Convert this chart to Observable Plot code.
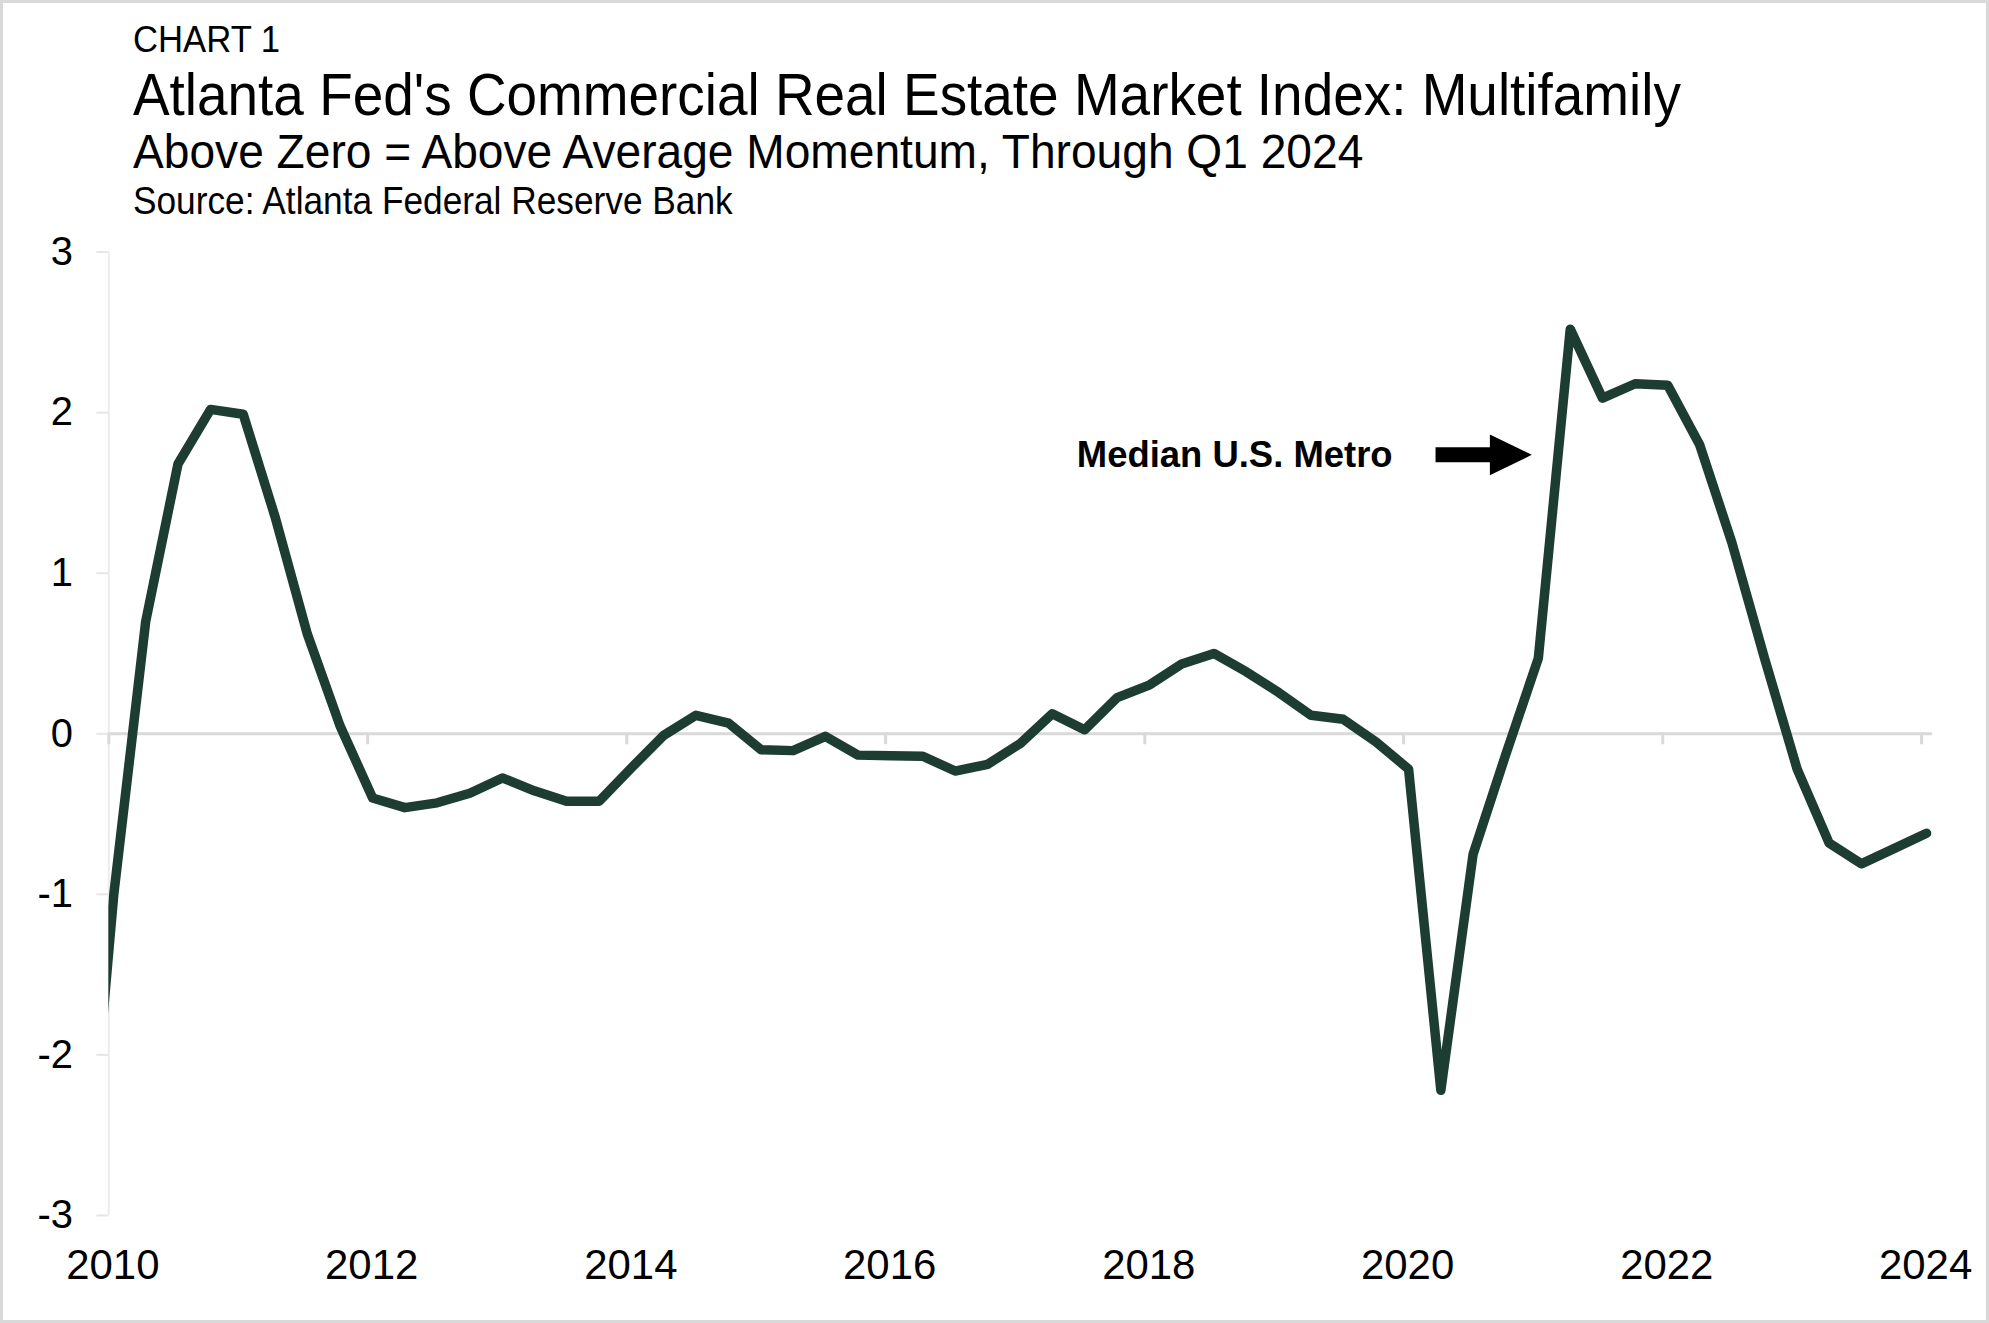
<!DOCTYPE html>
<html><head><meta charset="utf-8">
<script src="https://cdn.jsdelivr.net/npm/d3@7"></script>
<script src="https://cdn.jsdelivr.net/npm/@observablehq/plot@0.6"></script>
<style>
html,body{margin:0;padding:0;background:#fff;}
#page{position:relative;width:1989px;height:1323px;box-sizing:border-box;border:3px solid #d9d9d9;overflow:hidden;font-family:"Liberation Sans",Arial,Helvetica,sans-serif;background:#fff;}
.t{position:absolute;left:130px;white-space:nowrap;line-height:1;transform-origin:0 0;color:#000;}
#chart{position:absolute;left:-3px;top:217px;}
</style></head><body>
<div id="page">
  <div class="t" style="top:19.4px;font-size:36.5px;transform:scaleX(0.95)">CHART 1</div>
  <div class="t" style="top:63px;font-size:58.4px;transform:scaleX(0.94)">Atlanta Fed's Commercial Real Estate Market Index: Multifamily</div>
  <div class="t" style="top:125.2px;font-size:47.8px;transform:scaleX(0.965)">Above Zero = Above Average Momentum, Through Q1 2024</div>
  <div class="t" style="top:178.4px;font-size:39px;transform:scaleX(0.904)">Source: Atlanta Federal Reserve Bank</div>
  <div id="chart"></div>
</div>
<script>
// ---- data ----
const quarters = [
  "2009Q4",
  "2010Q1","2010Q2","2010Q3","2010Q4",
  "2011Q1","2011Q2","2011Q3","2011Q4",
  "2012Q1","2012Q2","2012Q3","2012Q4",
  "2013Q1","2013Q2","2013Q3","2013Q4",
  "2014Q1","2014Q2","2014Q3","2014Q4",
  "2015Q1","2015Q2","2015Q3","2015Q4",
  "2016Q1","2016Q2","2016Q3","2016Q4",
  "2017Q1","2017Q2","2017Q3","2017Q4",
  "2018Q1","2018Q2","2018Q3","2018Q4",
  "2019Q1","2019Q2","2019Q3","2019Q4",
  "2020Q1","2020Q2","2020Q3","2020Q4",
  "2021Q1","2021Q2","2021Q3","2021Q4",
  "2022Q1","2022Q2","2022Q3","2022Q4",
  "2023Q1","2023Q2","2023Q3","2023Q4",
  "2024Q1"
];
const medianMetro = [
  -3.3,
  -1.0, 0.70, 1.68, 2.02,
  1.99, 1.35, 0.62, 0.05,
  -0.40, -0.46, -0.43, -0.37,
  -0.275, -0.355, -0.42, -0.42,
  -0.21, -0.01, 0.115, 0.066,
  -0.10, -0.105, -0.016, -0.133,
  -0.137, -0.14, -0.232, -0.19,
  -0.06, 0.125, 0.025, 0.225,
  0.305, 0.435, 0.50, 0.385,
  0.255, 0.115, 0.09, -0.05,
  -0.22, -2.22, -0.75, -0.13,
  0.47, 2.52, 2.09, 2.18,
  2.17, 1.80, 1.19, 0.47,
  -0.22, -0.68, -0.81, -0.715,
  -0.62
];
const yTicks = [-3, -2, -1, 0, 1, 2, 3];
const xTickYears = [2010, 2012, 2014, 2016, 2018, 2020, 2022, 2024];
const xDomain = ["2010-01-01", "2024-02-01"];
const annotation = [{label: "Median U.S. Metro", labelX: 2019.915, y: 1.737, arrowStart: 2020.25, arrowShaftEnd: 2020.72, arrowTip: 2020.988}];

// ---- helpers ----
function qDate(q) { const y = +q.slice(0, 4), n = +q.slice(5); return new Date(Date.UTC(y, (n - 1) * 3, 15)); }
function yearDate(f) { const y = Math.floor(f); const a = Date.UTC(y, 0, 1), b = Date.UTC(y + 1, 0, 1); return new Date(a + (f - y) * (b - a)); }
const data = quarters.map((q, i) => ({date: qDate(q), value: medianMetro[i]}));
const xTicks = xTickYears.map(y => new Date(Date.UTC(y, 0, 1)));
const headSymbol = {draw(ctx) { const L = 42, H = 20.5; ctx.moveTo(0, 0); ctx.lineTo(-L, -H); ctx.lineTo(-L, H); ctx.closePath(); }};

const chart = Plot.plot({
  width: 1989, height: 1106,
  marginLeft: 108.5, marginRight: 54, marginTop: 31.6, marginBottom: 109.5,
  x: {type: "utc", domain: xDomain.map(d => new Date(d))},
  y: {domain: [-3, 3]},
  style: {fontFamily: '"Liberation Sans", Arial, Helvetica, sans-serif', color: "#000", background: "transparent"},
  marks: [
    Plot.ruleX([xTicks[0]], {y1: -3, y2: 3, stroke: "#ececec", strokeWidth: 2}),
    Plot.axisY({ticks: yTicks, tickFormat: d => String(d), tickSize: 12, tickPadding: 24, stroke: "#e6e6e6", strokeWidth: 2, fontSize: 40, label: null}),
    Plot.ruleY([0], {stroke: "#d9d9d9", strokeWidth: 3}),
    Plot.ruleX(xTicks, {y1: 0, y2: 0, insetBottom: -11, stroke: "#d9d9d9", strokeWidth: 3}),
    Plot.axisX({ticks: xTicks, tickFormat: d => String(d.getUTCFullYear()), tickSize: 0, tickPadding: 34, fontSize: 42, dx: 4, label: null}),
    Plot.line(data, {x: "date", y: "value", stroke: "#1d3c32", strokeWidth: 9.5, strokeLinejoin: "round", strokeLinecap: "round", clip: true}),
    Plot.text(annotation, {x: d => yearDate(d.labelX), y: "y", text: "label", textAnchor: "end", fontWeight: "bold", fontSize: 36.5, fill: "#000"}),
    Plot.ruleY(annotation, {y: "y", x1: d => yearDate(d.arrowStart), x2: d => yearDate(d.arrowShaftEnd), stroke: "#000", strokeWidth: 15}),
    Plot.dot(annotation, {x: d => yearDate(d.arrowTip), y: "y", symbol: headSymbol, r: 10, fill: "#000", stroke: "none"})
  ]
});
document.getElementById("chart").appendChild(chart);
</script>
</body></html>
